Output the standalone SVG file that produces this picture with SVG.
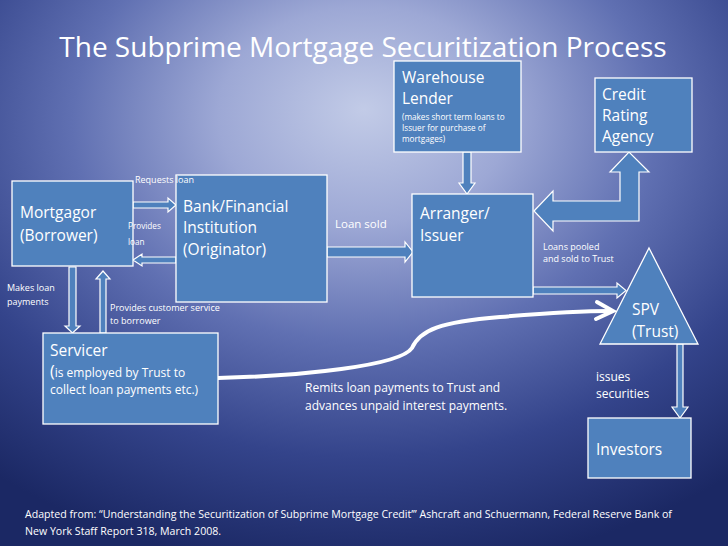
<svg xmlns="http://www.w3.org/2000/svg" width="728" height="546" viewBox="0 0 728 546">
<defs>
<radialGradient id="bg" cx="0.5" cy="0.25" r="0.8" fx="0.5" fy="0.2">
<stop offset="0" stop-color="#c2cbe7"/>
<stop offset="0.25" stop-color="#9da8d5"/>
<stop offset="0.5" stop-color="#6070b2"/>
<stop offset="0.75" stop-color="#34448b"/>
<stop offset="1" stop-color="#1b2864"/>
</radialGradient>
<style>
.box{fill:#4f81bd;stroke:#ffffff;stroke-width:1.3}
.arr{fill:#4f81bd;stroke:#ffffff;stroke-width:1.2;stroke-linejoin:miter}
text{font-family:"Open Sans","Noto Sans","Liberation Sans",sans-serif;fill:#ffffff}
.big{font-size:15.5px}
.med{font-size:12px}
.sm{font-size:9px}
.xs{font-size:8.2px}
</style>
</defs>
<rect x="0" y="0" width="728" height="546" fill="url(#bg)"/>
<text x="363" y="57" font-size="28" text-anchor="middle">The Subprime Mortgage Securitization Process</text>

<g id="connectors">
<polygon class="arr" points="463,152 471,152 471,183 475,183 467,194 459,183 463,183"/>
<polygon class="arr" points="133,202 168,202 168,198 176,205 168,212 168,208 133,208"/>
<polygon class="arr" points="176,257 142,257 142,254 133,260 142,266 142,263 176,263"/>
<polygon class="arr" points="327,247 405,247 405,242 413,252 405,262 405,257 327,257"/>
<polygon class="arr" points="533,287 617,287 617,283 626,290.5 617,298 617,294 533,294"/>
<polygon class="arr" points="677,344 683,344 683,407 688,407 680,418 672,407 677,407"/>
<polygon class="arr" points="69,267 76,267 76,326 80,326 72.5,333 65,326 69,326"/>
<polygon class="arr" points="100,333 100,279 96,279 103,271 110,279 106,279 106,333"/>
<polygon class="arr" points="534,211 553,191 553,201 620,201 620,172 610,172 629,152 649,172 639,172 639,221 553,221 553,231"/>
<path d="M218,378 C300,376 400,366 412,348 C420,330 440,322 500,317 S580,311 611,311" fill="none" stroke="#ffffff" stroke-width="4" stroke-linecap="round"/>
<polyline points="597,302 613,311 596,319" fill="none" stroke="#ffffff" stroke-width="4" stroke-linecap="round" stroke-linejoin="miter"/>
</g>

<g id="warehouse">
<rect class="box" x="394" y="61" width="127" height="91"/>
<text class="big" x="402" y="83">Warehouse</text>
<text class="big" x="402" y="104">Lender</text>
<text class="xs" x="402" y="120">(makes short term loans to</text>
<text class="xs" x="402" y="131">Issuer for purchase of</text>
<text class="xs" x="402" y="142">mortgages)</text>
</g>
<g id="credit">
<rect class="box" x="595" y="78" width="97" height="74"/>
<text class="big" x="602" y="100">Credit</text>
<text class="big" x="602" y="121">Rating</text>
<text class="big" x="602" y="142">Agency</text>
</g>
<g id="mortgagor">
<rect class="box" x="12" y="181" width="121" height="85"/>
<text class="big" x="20" y="218">Mortgagor</text>
<text class="big" x="20" y="241">(Borrower)</text>
</g>
<g id="bank">
<rect class="box" x="176" y="175" width="151" height="127"/>
<text class="big" x="183" y="212">Bank/Financial</text>
<text class="big" x="183" y="233">Institution</text>
<text class="big" x="183" y="255">(Originator)</text>
</g>
<g id="arranger">
<rect class="box" x="412" y="194" width="121" height="103"/>
<text class="big" x="420" y="219">Arranger/</text>
<text class="big" x="420" y="241">Issuer</text>
</g>
<g id="spv">
<polygon class="box" points="649,248 698,344 600,344"/>
<text class="big" x="632" y="315">SPV</text>
<text class="big" x="632" y="337">(Trust)</text>
</g>
<g id="investors">
<rect class="box" x="588" y="418" width="103" height="60"/>
<text class="big" x="596" y="455">Investors</text>
</g>
<g id="servicer">
<rect class="box" x="43" y="333" width="175" height="91"/>
<text class="big" x="50" y="356">Servicer</text>
<text class="med" x="50" y="377"><tspan font-size="16">(</tspan>is employed by Trust to</text>
<text class="med" x="50" y="394">collect loan payments etc.)</text>
</g>

<g id="labels">
<text class="sm" x="135" y="183">Requests loan</text>
<text class="xs" x="128" y="229">Provides</text>
<text class="xs" x="128" y="245">loan</text>
<text x="335" y="228" font-size="11.5">Loan sold</text>
<text class="sm" x="543" y="250">Loans pooled</text>
<text class="sm" x="543" y="262">and sold to Trust</text>
<text class="sm" x="7" y="291">Makes loan</text>
<text class="sm" x="7" y="305">payments</text>
<text class="sm" x="110" y="311">Provides customer service</text>
<text class="sm" x="110" y="324">to borrower</text>
<text class="med" x="305" y="392">Remits loan payments to Trust and</text>
<text class="med" x="305" y="410">advances unpaid interest payments.</text>
<text class="med" x="596" y="381">issues</text>
<text class="med" x="596" y="398">securities</text>
</g>

<text x="25" y="518" font-size="10.6">Adapted from: “Understanding the Securitization of Subprime Mortgage Credit’” Ashcraft and Schuermann, Federal Reserve Bank of</text>
<text x="25" y="535" font-size="10.6">New York Staff Report 318, March 2008.</text>
</svg>
